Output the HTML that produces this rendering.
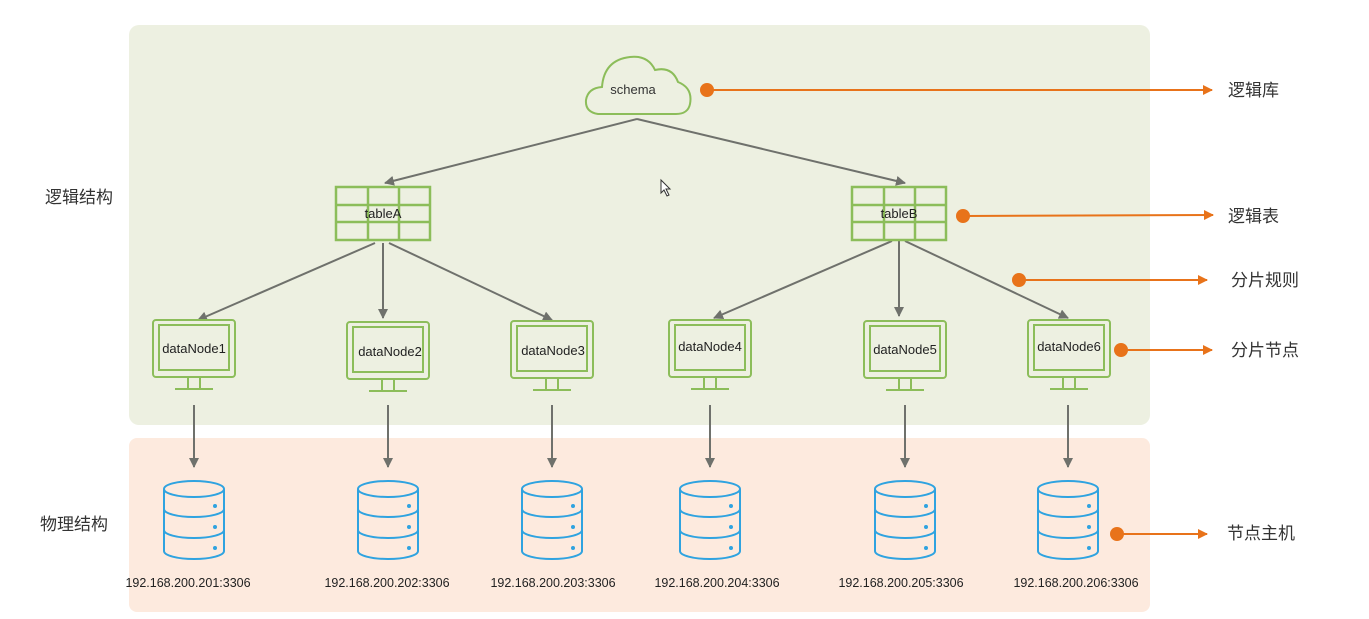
<!DOCTYPE html>
<html><head><meta charset="utf-8"><style>
html,body{margin:0;padding:0;background:#fff;width:1369px;height:619px;overflow:hidden}
svg text{font-family:"Liberation Sans","Noto Sans CJK SC",sans-serif}
</style></head><body>
<svg width="1369" height="619" viewBox="0 0 1369 619" xmlns="http://www.w3.org/2000/svg">
<defs>
<marker id="ag" markerWidth="10" markerHeight="10" refX="9" refY="5" orient="auto" markerUnits="userSpaceOnUse"><path d="M0,0 L10,5 L0,10 Z" fill="#6f716c"/></marker>
<marker id="ao" markerWidth="10" markerHeight="10" refX="9" refY="5" orient="auto" markerUnits="userSpaceOnUse"><path d="M0,0 L10,5 L0,10 Z" fill="#e8731a"/></marker>
</defs>
<rect x="129" y="25" width="1021" height="400" rx="10" fill="#edf0e1"/>
<rect x="129" y="438" width="1021" height="174" rx="8" fill="#fdeade"/>
<text x="45" y="203" font-size="17" fill="#333">逻辑结构</text>
<text x="40" y="530" font-size="17" fill="#333">物理结构</text>
<!-- cloud -->
<path d="M598,114 Q585,112 586,100 Q588,88 602,87 Q604,60 630,57 Q648,55 655,70 Q672,66 678,82 Q693,88 690,104 Q688,114 676,114 Z" fill="#edf0e1" stroke="#8cbd5a" stroke-width="2"/>
<text x="633" y="94" font-size="13" fill="#333" text-anchor="middle">schema</text>
<!-- gray arrows -->
<g stroke="#6f716c" stroke-width="2" fill="none">
<line x1="637" y1="119" x2="385" y2="183" marker-end="url(#ag)"/>
<line x1="637" y1="119" x2="905" y2="183" marker-end="url(#ag)"/>
<line x1="375" y1="243" x2="198" y2="320" marker-end="url(#ag)"/>
<line x1="383" y1="243" x2="383" y2="318" marker-end="url(#ag)"/>
<line x1="389" y1="243" x2="552" y2="320" marker-end="url(#ag)"/>
<line x1="892" y1="241" x2="714" y2="318" marker-end="url(#ag)"/>
<line x1="899" y1="241" x2="899" y2="316" marker-end="url(#ag)"/>
<line x1="905" y1="241" x2="1068" y2="318" marker-end="url(#ag)"/>
<line x1="194" y1="405" x2="194" y2="467" marker-end="url(#ag)"/>
<line x1="388" y1="405" x2="388" y2="467" marker-end="url(#ag)"/>
<line x1="552" y1="405" x2="552" y2="467" marker-end="url(#ag)"/>
<line x1="710" y1="405" x2="710" y2="467" marker-end="url(#ag)"/>
<line x1="905" y1="405" x2="905" y2="467" marker-end="url(#ag)"/>
<line x1="1068" y1="405" x2="1068" y2="467" marker-end="url(#ag)"/>
</g>
<!-- tables -->
<g stroke="#8cbd5a" stroke-width="2.5" fill="none">
<rect x="336" y="187" width="94" height="53"/><line x1="368" y1="187" x2="368" y2="240"/><line x1="399" y1="187" x2="399" y2="240"/><line x1="336" y1="205" x2="430" y2="205"/><line x1="336" y1="222" x2="430" y2="222"/>
<rect x="852" y="187" width="94" height="53"/><line x1="884" y1="187" x2="884" y2="240"/><line x1="915" y1="187" x2="915" y2="240"/><line x1="852" y1="205" x2="946" y2="205"/><line x1="852" y1="222" x2="946" y2="222"/>
</g>
<text x="383" y="218" font-size="13" fill="#222" text-anchor="middle">tableA</text>
<text x="899" y="218" font-size="13" fill="#222" text-anchor="middle">tableB</text>
<!-- monitors -->
<g stroke="#8cbd5a" fill="none">
<g stroke-width="2"><rect x="153" y="320" width="82" height="57" rx="3"/><rect x="159" y="325" width="70" height="45"/><line x1="188" y1="377" x2="188" y2="388"/><line x1="200" y1="377" x2="200" y2="388"/><line x1="175" y1="389" x2="213" y2="389"/></g>
<g stroke-width="2"><rect x="347" y="322" width="82" height="57" rx="3"/><rect x="353" y="327" width="70" height="45"/><line x1="382" y1="379" x2="382" y2="390"/><line x1="394" y1="379" x2="394" y2="390"/><line x1="369" y1="391" x2="407" y2="391"/></g>
<g stroke-width="2"><rect x="511" y="321" width="82" height="57" rx="3"/><rect x="517" y="326" width="70" height="45"/><line x1="546" y1="378" x2="546" y2="389"/><line x1="558" y1="378" x2="558" y2="389"/><line x1="533" y1="390" x2="571" y2="390"/></g>
<g stroke-width="2"><rect x="669" y="320" width="82" height="57" rx="3"/><rect x="675" y="325" width="70" height="45"/><line x1="704" y1="377" x2="704" y2="388"/><line x1="716" y1="377" x2="716" y2="388"/><line x1="691" y1="389" x2="729" y2="389"/></g>
<g stroke-width="2"><rect x="864" y="321" width="82" height="57" rx="3"/><rect x="870" y="326" width="70" height="45"/><line x1="899" y1="378" x2="899" y2="389"/><line x1="911" y1="378" x2="911" y2="389"/><line x1="886" y1="390" x2="924" y2="390"/></g>
<g stroke-width="2"><rect x="1028" y="320" width="82" height="57" rx="3"/><rect x="1034" y="325" width="70" height="45"/><line x1="1063" y1="377" x2="1063" y2="388"/><line x1="1075" y1="377" x2="1075" y2="388"/><line x1="1050" y1="389" x2="1088" y2="389"/></g>
</g>
<g font-size="13" fill="#222" text-anchor="middle">
<text x="194" y="353">dataNode1</text>
<text x="390" y="356">dataNode2</text>
<text x="553" y="355">dataNode3</text>
<text x="710" y="351">dataNode4</text>
<text x="905" y="354">dataNode5</text>
<text x="1069" y="351">dataNode6</text>
</g>
<!-- databases -->
<g stroke="#2fa3e0" stroke-width="2" fill="none">
<g id="db1"><ellipse cx="194" cy="489" rx="30" ry="8"/><path d="M164,489 V551 A30,8 0 0 0 224,551 V489"/><path d="M164,509 A30,8 0 0 0 224,509"/><path d="M164,530 A30,8 0 0 0 224,530"/></g>
<g><ellipse cx="388" cy="489" rx="30" ry="8"/><path d="M358,489 V551 A30,8 0 0 0 418,551 V489"/><path d="M358,509 A30,8 0 0 0 418,509"/><path d="M358,530 A30,8 0 0 0 418,530"/></g>
<g><ellipse cx="552" cy="489" rx="30" ry="8"/><path d="M522,489 V551 A30,8 0 0 0 582,551 V489"/><path d="M522,509 A30,8 0 0 0 582,509"/><path d="M522,530 A30,8 0 0 0 582,530"/></g>
<g><ellipse cx="710" cy="489" rx="30" ry="8"/><path d="M680,489 V551 A30,8 0 0 0 740,551 V489"/><path d="M680,509 A30,8 0 0 0 740,509"/><path d="M680,530 A30,8 0 0 0 740,530"/></g>
<g><ellipse cx="905" cy="489" rx="30" ry="8"/><path d="M875,489 V551 A30,8 0 0 0 935,551 V489"/><path d="M875,509 A30,8 0 0 0 935,509"/><path d="M875,530 A30,8 0 0 0 935,530"/></g>
<g><ellipse cx="1068" cy="489" rx="30" ry="8"/><path d="M1038,489 V551 A30,8 0 0 0 1098,551 V489"/><path d="M1038,509 A30,8 0 0 0 1098,509"/><path d="M1038,530 A30,8 0 0 0 1098,530"/></g>
</g>
<g fill="#2fa3e0">
<circle cx="215" cy="506" r="2"/><circle cx="215" cy="527" r="2"/><circle cx="215" cy="548" r="2"/>
<circle cx="409" cy="506" r="2"/><circle cx="409" cy="527" r="2"/><circle cx="409" cy="548" r="2"/>
<circle cx="573" cy="506" r="2"/><circle cx="573" cy="527" r="2"/><circle cx="573" cy="548" r="2"/>
<circle cx="731" cy="506" r="2"/><circle cx="731" cy="527" r="2"/><circle cx="731" cy="548" r="2"/>
<circle cx="926" cy="506" r="2"/><circle cx="926" cy="527" r="2"/><circle cx="926" cy="548" r="2"/>
<circle cx="1089" cy="506" r="2"/><circle cx="1089" cy="527" r="2"/><circle cx="1089" cy="548" r="2"/>
</g>
<g font-size="12.5" fill="#222" text-anchor="middle">
<text x="188" y="587">192.168.200.201:3306</text>
<text x="387" y="587">192.168.200.202:3306</text>
<text x="553" y="587">192.168.200.203:3306</text>
<text x="717" y="587">192.168.200.204:3306</text>
<text x="901" y="587">192.168.200.205:3306</text>
<text x="1076" y="587">192.168.200.206:3306</text>
</g>
<!-- orange -->
<g stroke="#e8731a" stroke-width="2">
<line x1="707" y1="90" x2="1212" y2="90" marker-end="url(#ao)"/>
<line x1="963" y1="216" x2="1213" y2="215" marker-end="url(#ao)"/>
<line x1="1019" y1="280" x2="1207" y2="280" marker-end="url(#ao)"/>
<line x1="1121" y1="350" x2="1212" y2="350" marker-end="url(#ao)"/>
<line x1="1117" y1="534" x2="1207" y2="534" marker-end="url(#ao)"/>
</g>
<g fill="#e8731a">
<circle cx="707" cy="90" r="7"/><circle cx="963" cy="216" r="7"/><circle cx="1019" cy="280" r="7"/><circle cx="1121" cy="350" r="7"/><circle cx="1117" cy="534" r="7"/>
</g>
<g font-size="17" fill="#333">
<text x="1228" y="96">逻辑库</text>
<text x="1228" y="222">逻辑表</text>
<text x="1231" y="286">分片规则</text>
<text x="1231" y="356">分片节点</text>
<text x="1227" y="539">节点主机</text>
</g>
<path d="M661,180 L661,193 L664,190 L667,196 L669,195 L666,189 L670,189 Z" fill="#fff" stroke="#333" stroke-width="1"/>
</svg>
</body></html>
